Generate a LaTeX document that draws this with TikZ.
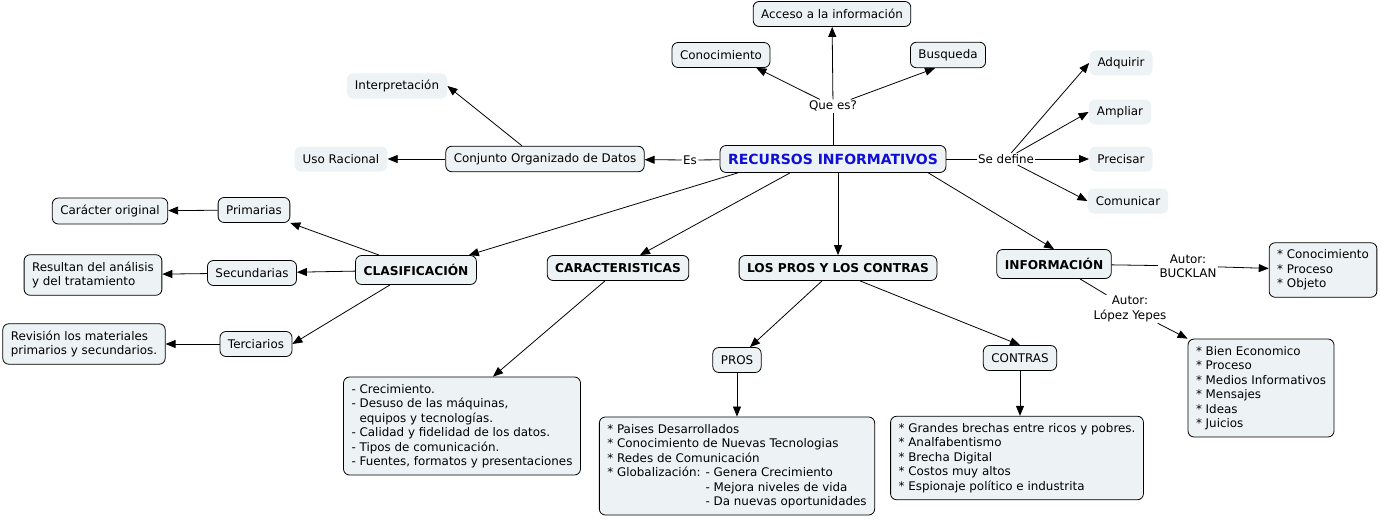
\documentclass[tikz,border=0pt]{standalone}
\usepackage{fontspec}
\setmainfont{DejaVu Sans}
\usetikzlibrary{arrows.meta}
\definecolor{cfill}{RGB}{237,243,245}
\definecolor{cblue}{RGB}{14,14,214}

\begin{document}
\begin{tikzpicture}[x=1pt,y=-1pt,line width=0.8pt,
  >={Triangle[length=10pt,width=8pt]},
  every node/.style={font=\fontsize{11.9}{14.5}\selectfont},
  box/.style={draw,fill=cfill,rounded corners=6pt,inner xsep=8pt,inner ysep=7pt,minimum height=25pt,align=left},
  flat/.style={fill=cfill,rounded corners=6pt,inner xsep=8pt,inner ysep=6pt,minimum height=25pt},
  hd/.style={box,font=\fontsize{12.2}{14.5}\selectfont\bfseries},
  lbl/.style={fill=white,inner sep=1pt,align=center}]
\useasboundingbox (0,0) rectangle (1381,519);
\node[box,font=\fontsize{14}{17}\selectfont\bfseries,text=cblue,minimum height=27pt] (Rec) at (833,159) {RECURSOS INFORMATIVOS};
\node[box] (Acc) at (832,14) {Acceso a la información};
\node[box] (Con) at (721,55) {Conocimiento};
\node[box] (Bus) at (948,55) {Busqueda};
\node[lbl] (Que) at (833,106) {Que es?};
\node[flat] (Int) at (397,86) {Interpretación};
\node[flat] (Uso) at (341,159) {Uso Racional};
\node[box] (Cjt) at (545,159) {Conjunto Organizado de Datos};
\node[lbl] (Es) at (690,160) {Es};
\node[lbl] (Def) at (1006,159) {Se define};
\node[flat] (Adq) at (1121,63) {Adquirir};
\node[flat] (Amp) at (1120,112) {Ampliar};
\node[flat] (Pre) at (1121,159) {Precisar};
\node[flat] (Com) at (1128,201) {Comunicar};
\node[hd,minimum height=29pt] (Cla) at (416,270) {CLASIFICACIÓN};
\node[box] (Pri) at (254,210) {Primarias};
\node[box] (Ori) at (110,211) {Carácter original};
\node[box] (Sec) at (252,273) {Secundarias};
\node[box] (Res) at (93,275) {Resultan del análisis\\y del tratamiento};
\node[box] (Ter) at (256,344) {Terciarios};
\node[box] (Rev) at (84,344) {Revisión los materiales\\primarios y secundarios.};
\node[hd] (Car) at (618,268) {CARACTERISTICAS};
\node[box] (CarL) at (462,426) {- Crecimiento.\\- Desuso de las máquinas,\\\hphantom{-}\ equipos y tecnologías.\\- Calidad y fidelidad de los datos.\\- Tipos de comunicación.\\- Fuentes, formatos y presentaciones};
\node[hd] (PyC) at (838,268) {LOS PROS Y LOS CONTRAS};
\node[box] (Pro) at (737,360) {PROS};
\node[box] (Ctr) at (1020,358) {CONTRAS};
\node[box] (ProL) at (737,466) {* Paises Desarrollados\\* Conocimiento de Nuevas Tecnologias\\* Redes de Comunicación\\* Globalización: - Genera Crecimiento\\\hphantom{* Globalización: }- Mejora niveles de vida\\\hphantom{* Globalización: }- Da nuevas oportunidades};
\node[box] (CtrL) at (1017,458) {* Grandes brechas entre ricos y pobres.\\* Analfabentismo\\* Brecha Digital\\* Costos muy altos\\* Espionaje político e industrita};
\node[hd,minimum height=29pt] (Inf) at (1054,264) {INFORMACIÓN};
\node[lbl] (Buc) at (1188,266) {Autor:\\BUCKLAN};
\node[box] (BucL) at (1323,270) {* Conocimiento\\* Proceso\\* Objeto};
\node[lbl] (Lop) at (1130,309) {Autor:\\López Yepes};
\node[box] (LopL) at (1261,388) {* Bien Economico\\* Proceso\\* Medios Informativos\\* Mensajes\\* Ideas\\* Juicios};
\draw (Rec) -- (Que);
\draw[->] (Que) -- (Acc);
\draw[->] (Que) -- ([xshift=-14pt]Con.south east);
\draw[->] (Que) -- ([xshift=-13pt]Bus.south);
\draw (Rec) -- (Es);
\draw[->] (Es) -- (Cjt);
\draw[->] (Cjt) -- (Uso);
\draw[->] ([xshift=-23pt]Cjt.north) -- (Int.east);
\draw (Rec) -- (Def);
\draw[->] (Def) -- (Adq.west);
\draw[->] (Def) -- (Amp.west);
\draw[->] (Def) -- (Pre);
\draw[->] (Def) -- (Com.west);
\draw[->] ([xshift=18pt]Rec.south west) -- ([xshift=-8pt]Cla.north east);
\draw[->] ([xshift=-43pt]Rec.south) -- ([xshift=22pt]Car.north);
\draw[->] (Rec.south -| PyC) -- (PyC);
\draw[->] ([xshift=-18pt]Rec.south east) -- (Inf.north);
\draw[->] ([xshift=24pt]Cla.north west) -- (Pri.south east);
\draw[->] (Cla) -- (Sec);
\draw[->] ([xshift=-26pt]Cla.south) -- (Ter.east);
\draw[->] (Pri) -- (Ori);
\draw[->] (Sec) -- (Res);
\draw[->] (Ter) -- (Rev);
\draw[->] ([xshift=-13pt]Car.south) -- ([xshift=31pt]CarL.north);
\draw[->] ([xshift=-16pt]PyC.south) -- ([xshift=13pt]Pro.north);
\draw[->] ([xshift=22pt]PyC.south) -- (Ctr.north);
\draw[->] (Pro) -- (ProL);
\draw[->] (Ctr.south) -- (Ctr.south |- CtrL.north);
\draw (Inf) -- (Buc);
\draw[->] (Buc) -- (BucL);
\draw ([xshift=26pt]Inf.south) -- (Lop);
\draw[->] (Lop) -- (LopL.north west);
\end{tikzpicture}
\end{document}
